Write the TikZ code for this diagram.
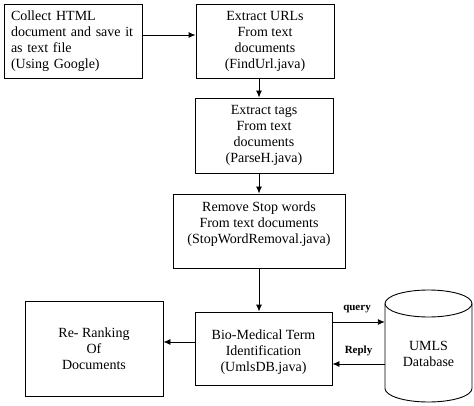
\documentclass[tikz,border=0pt]{standalone}
\usepackage{fontspec}
\setmainfont{Liberation Serif}
\usetikzlibrary{arrows.meta}

\tikzset{
  stepbox/.style={draw, line width=.9pt, minimum width=138pt, minimum height=74pt,
    inner sep=0pt, align=center, font=\fontsize{14}{16}\selectfont},
  link/.style={-{Latex[length=7pt,width=6pt]}, line width=.9pt},
  tag/.style={font=\fontsize{11}{13}\selectfont\bfseries}
}

\begin{document}
\begin{tikzpicture}[x=1pt,y=1pt]
				\useasboundingbox (0,0) rectangle (474,405);
				% boxes of the pipeline
				\node[stepbox, align=left, text width=124pt] (collect) at (73,364) {Collect HTML\\document and save it\\as text file\\(Using Google)};
				\node[stepbox] (find) at (265,364) {Extract URLs\\From text\\documents\\(FindUrl.java)};
				\node[stepbox, minimum height=75pt] (parse) at (264,269.5) {Extract tags\\From text\\documents\\(ParseH.java)};
				\node[stepbox, minimum width=172pt] (stop) at (259,174) {Remove Stop words\\From text documents\\(StopWordRemoval.java)\\\mbox{}};
				\node[stepbox, minimum width=137pt, minimum height=73pt] (bio) at (263.5,56.5) {\mbox{}\\Bio-Medical Term\\Identification\\(UmlsDB.java)};
				\node[stepbox, minimum height=95pt] (rank) at (94,56.5) {Re- Ranking\\Of\\Documents};
				% database drum
				\draw[line width=.9pt] (428.5,101.5) ellipse [x radius=43.5, y radius=13.5];
				\draw[line width=.9pt] (385,101.5) -- (385,16.5) arc[start angle=180, end angle=360, x radius=43.5, y radius=13.5] -- (472,101.5);
				\node[minimum width=87pt, inner sep=0pt, align=center, font=\fontsize{14}{16}\selectfont] (umls) at (428.5,51) {UMLS\\Database};
				% connectors
				\coordinate (axis) at (259,0);
				\draw[link] ([yshift=6pt]collect.east) -- ([yshift=6pt]collect.east -| find.west);
				\draw[link] (find.south -| axis) -- (parse.north -| axis);
				\draw[link] (parse.south -| axis) -- (stop.north -| axis);
				\draw[link] (stop.south -| axis) -- (bio.north -| axis);
				\draw[link] ([yshift=6.5pt]bio.west) -- ([yshift=6.5pt]bio.west -| rank.east);
				\draw[link] ([yshift=26.5pt]bio.east) -- ([yshift=26.5pt]bio.east -| umls.west);
				\draw[link] ([yshift=-15.5pt]bio.east -| umls.west) -- ([yshift=-15.5pt]bio.east);
				\node[tag] (query) at (357,96) {query};
				\node[tag] (reply) at (358.5,54) {Reply};
			\end{tikzpicture}
\end{document}
